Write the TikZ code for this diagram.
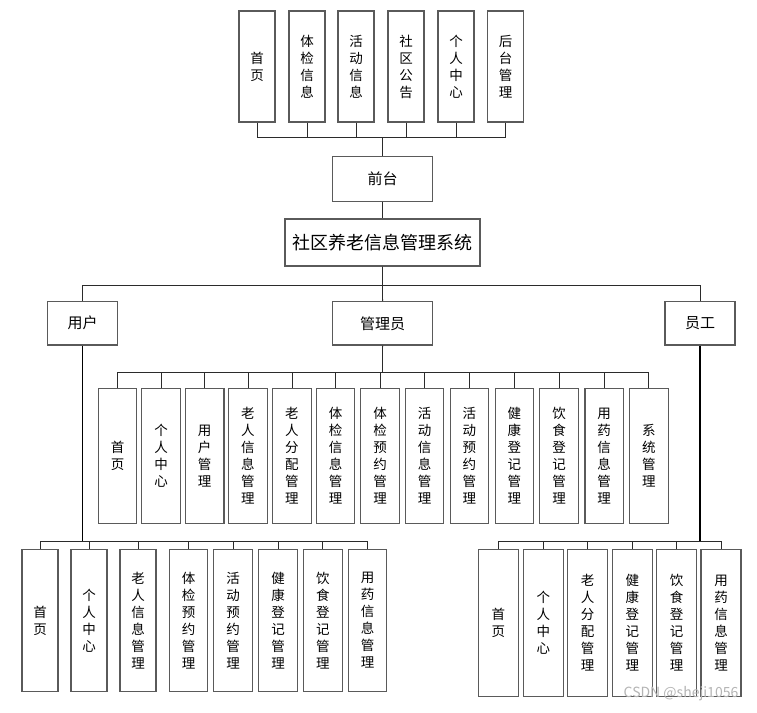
\documentclass[tikz,border=0pt]{standalone}
\usepackage{fontspec}
\setmainfont{Noto Sans CJK SC}
\usetikzlibrary{calc,positioning}
\definecolor{edgex}{HTML}{5A5A5A}
\definecolor{linex}{HTML}{2B2B2B}
\definecolor{markx}{HTML}{B4B4B4}
\tikzset{
  box/.style={draw=edgex,line width=1.1pt,inner sep=0pt,align=center,fill=white},
  vbox/.style={box,font=\fontsize{13.5}{17}\selectfont},
  hbox/.style={box,font=\fontsize{15}{18}\selectfont,minimum height=43.3pt},
  ln/.style={linex,line width=0.8pt},
  trunk/.style={black,line width=1.6pt}
}
\begin{document}
\begin{tikzpicture}[x=1pt,y=-1pt]
\useasboundingbox (0,0) rectangle (757,712);
% front end
\foreach \i/\x/\t in {1/257/{首\\页},2/307/{体\\检\\信\\息},3/356/{活\\动\\信\\息},
  4/406/{社\\区\\公\\告},5/456/{个\\人\\中\\心},6/505.5/{后\\台\\管\\理}}
  \node[vbox,minimum width=36pt,minimum height=111pt] (t\i) at (\x,66.5) {\t};
\node[hbox,minimum width=99.6pt,minimum height=44.3pt] (qt) at (382.5,179) {前台};
\node[box,font=\fontsize{18}{20}\selectfont,minimum width=195pt,minimum height=47pt] (sys) at (382.5,242.5) {社区养老信息管理系统};
\coordinate (tbus) at (382.5,137.7);
\foreach \i in {1,...,6}{\draw[ln] (t\i.south) |- (tbus);}
\draw[ln] (tbus) -- (qt.north);
\draw[ln] (qt.south) -- (sys.north);
% roles
\node[hbox,minimum width=70pt] (yh) at (82.5,323.3) {用户};
\node[hbox,minimum width=99.8pt] (gly) at (382.6,323.3) {管理员};
\node[hbox,minimum width=70pt] (yg) at (700,323.3) {员工};
\coordinate (mbus) at (382.5,285);
\draw[ln] (sys.south) -- (gly.north);
\draw[ln] (mbus) -| (yh.north);
\draw[ln] (mbus) -| (yg.north);
% admin
\foreach \i/\x/\t in {1/117.5/{首\\页},2/161/{个\\人\\中\\心},3/204.7/{用\\户\\管\\理},
  4/247.9/{老\\人\\信\\息\\管\\理},5/291.9/{老\\人\\分\\配\\管\\理},6/335.5/{体\\检\\信\\息\\管\\理},
  7/380/{体\\检\\预\\约\\管\\理},8/424.5/{活\\动\\信\\息\\管\\理},9/469.4/{活\\动\\预\\约\\管\\理},
  10/514.4/{健\\康\\登\\记\\管\\理},11/559/{饮\\食\\登\\记\\管\\理},12/604.2/{用\\药\\信\\息\\管\\理},
  13/648.8/{系\\统\\管\\理}}
  \node[vbox,minimum width=38.5pt,minimum height=135pt] (a\i) at (\x,455.8) {\t};
\coordinate (abus) at (382.5,372.7);
\draw[ln] (gly.south) -- (abus);
\foreach \i in {1,...,13}{\draw[ln] (abus) -| (a\i.north);}
% user
\foreach \i/\x/\w/\t in {1/40/36/{首\\页},2/89/36/{个\\人\\中\\心},3/138/36/{老\\人\\信\\息\\管\\理},
  4/188.5/38.5/{体\\检\\预\\约\\管\\理},5/233/38.5/{活\\动\\预\\约\\管\\理},6/278/38.5/{健\\康\\登\\记\\管\\理},
  7/322.8/38.5/{饮\\食\\登\\记\\管\\理},8/367.5/38.5/{用\\药\\信\\息\\管\\理}}
  \node[vbox,minimum width=\w pt,minimum height=142pt] (u\i) at (\x,620.5) {\t};
\coordinate (ubus) at (82.5,541);
\draw[trunk] (yh.south) -- (ubus);
\foreach \i in {1,...,8}{\draw[ln] (ubus) -| (u\i.north);}
% staff
\foreach \i/\x/\t in {1/498.3/{首\\页},2/543.3/{个\\人\\中\\心},3/587.7/{老\\人\\分\\配\\管\\理},
  4/632.3/{健\\康\\登\\记\\管\\理},5/676.7/{饮\\食\\登\\记\\管\\理},6/721/{用\\药\\信\\息\\管\\理}}
  \node[vbox,minimum width=40pt,minimum height=146.7pt] (s\i) at (\x,622.7) {\t};
\coordinate (sbus) at (700,541);
\draw[trunk] (yg.south) -- (sbus);
\foreach \i in {1,...,6}{\draw[ln] (sbus) -| (s\i.north);}
\node[markx,font=\fontsize{14}{16}\selectfont] (wm) at (681,694) {CSDN @sheji1056};
\end{tikzpicture}
\end{document}
